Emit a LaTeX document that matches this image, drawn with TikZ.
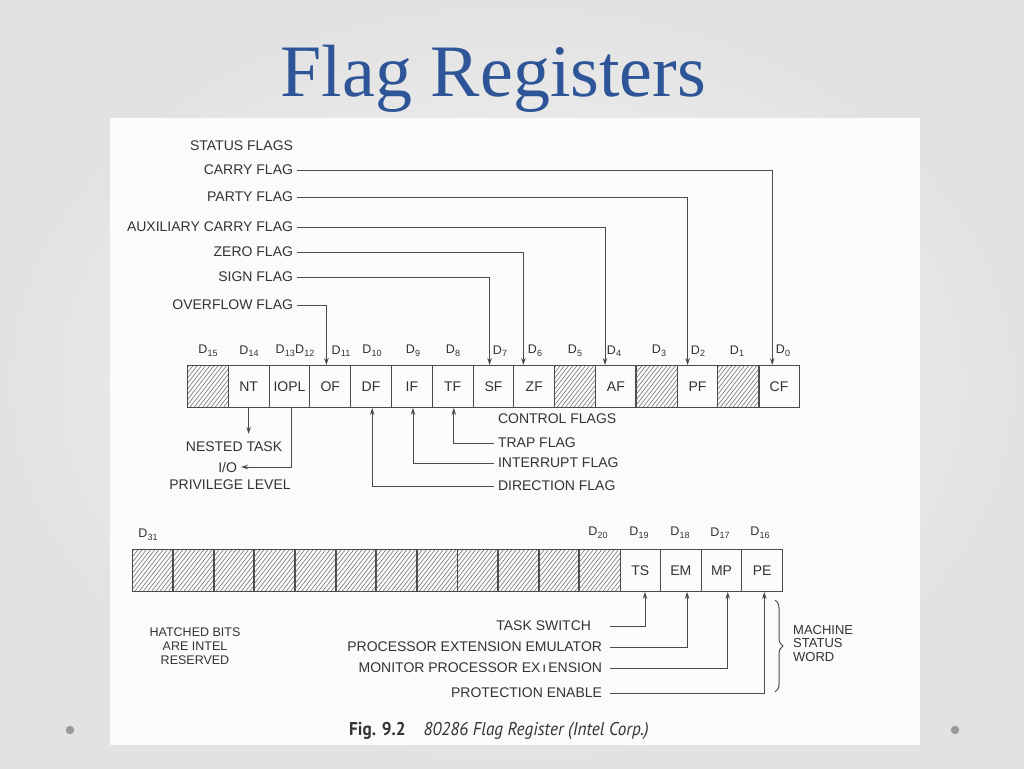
\documentclass[tikz,border=0pt]{standalone}
\usepackage{fontspec}
\setmainfont{Liberation Sans}
\newfontfamily\titlefont{Liberation Serif}
\newfontfamily\capfont{PT Sans}
\usetikzlibrary{arrows.meta,calc,decorations.pathreplacing}
\definecolor{slidebg}{HTML}{E2E2E2}
\definecolor{slidemid}{HTML}{F8F8F8}
\definecolor{paper}{HTML}{FBFBFB}
\definecolor{titleblue}{HTML}{2E5597}
\definecolor{ink}{HTML}{333333}
\definecolor{wire}{HTML}{4A4A4A}
\definecolor{hatchc}{HTML}{6E6E6E}
\newcommand\dl[1]{D\kern0.3pt\raisebox{-2.6pt}{\fontsize{9}{9}\selectfont #1}}
\newcommand\hatchit[1]{%
  \begin{scope}
    \clip (#1.south west) rectangle (#1.north east);
    \foreach \k in {-48,-43.8,...,44}{\draw[hatchc, line width=0.55pt] ([xshift=\k pt]#1.south west) -- ++(52:80pt);}
  \end{scope}
  \draw[draw=wire, line width=0.9pt] (#1.south west) rectangle (#1.north east);}
\begin{document}
\begin{tikzpicture}[x=1pt,y=-1pt,
  lab/.style={font=\fontsize{14}{14}\selectfont, text=ink, inner sep=0pt, outer xsep=4pt},
  smalllab/.style={font=\fontsize{12.5}{14}\selectfont, text=ink, inner sep=0pt},
  dlab/.style={font=\fontsize{12.5}{12.5}\selectfont, text=ink, inner sep=0pt},
  cell/.style={draw=wire, line width=0.9pt, minimum width=40.8pt, minimum height=42pt, inner sep=0pt, anchor=north west, font=\fontsize{14}{14}\selectfont, text=ink},
  bcell/.style={cell, minimum width=40.625pt},
  wirel/.style={draw=wire, line width=1pt},
  arr/.style={wirel, -{Stealth[length=7pt,width=4.5pt]}},
]
\useasboundingbox (0,0) rectangle (1024,768);
\shade[inner color=slidemid, outer color=slidebg] (0,0) rectangle (1024,768);
\fill[paper] (110,118) rectangle (920,745);

% title
\node[anchor=base, text=titleblue, inner sep=0pt] (title) at (493.5,96) {\titlefont\fontsize{74}{74}\selectfont Flag Registers};

% bullets
\fill[gray!80] (70,730) circle (4.2);
\fill[gray!80] (955,730) circle (4.2);

% ---------- top register ----------
\node[cell] (c15) at (187,365) {};
\node[cell] (cNT) at (227.8,365) {NT};
\node[cell] (cIOPL) at (268.6,365) {IOPL};
\node[cell] (cOF) at (309.4,365) {OF};
\node[cell] (cDF) at (350.2,365) {DF};
\node[cell] (cIF) at (391,365) {IF};
\node[cell] (cTF) at (431.8,365) {TF};
\node[cell] (cSF) at (472.6,365) {SF};
\node[cell] (cZF) at (513.4,365) {ZF};
\node[cell] (c5) at (554.2,365) {};
\node[cell] (cAF) at (595,365) {AF};
\node[cell] (c3) at (635.8,365) {};
\node[cell] (cPF) at (676.6,365) {PF};
\node[cell] (c1) at (717.4,365) {};
\node[cell] (cCF) at (758.2,365) {CF};
\hatchit{c15}\hatchit{c5}\hatchit{c3}\hatchit{c1}

% bit labels top
\node[dlab] (d15) at (208,351) {\dl{15}};
\node[dlab] (d14) at (249,351) {\dl{14}};
\node[dlab] (d13) at (295,351) {\dl{13}\dl{12}};
\node[dlab] (d11) at (341,351) {\dl{11}};
\node[dlab] (d10) at (372,351) {\dl{10}};
\node[dlab] (d9) at (413,351) {\dl{9}};
\node[dlab] (d8) at (453,351) {\dl{8}};
\node[dlab] (d7) at (500,351) {\dl{7}};
\node[dlab] (d6) at (535,351) {\dl{6}};
\node[dlab] (d5) at (575,351) {\dl{5}};
\node[dlab] (d4) at (614,351) {\dl{4}};
\node[dlab] (d3) at (659,351) {\dl{3}};
\node[dlab] (d2) at (698,351) {\dl{2}};
\node[dlab] (d1) at (737,351) {\dl{1}};
\node[dlab] (d0) at (783,351) {\dl{0}};

% status flag labels
\node[lab, anchor=east] (lstatus) at (297,146) {STATUS FLAGS};
\node[lab, anchor=east] (lcarry) at (297,170) {CARRY FLAG};
\node[lab, anchor=east] (lparity) at (297,197) {PARTY FLAG};
\node[lab, anchor=east] (laux) at (297,227) {AUXILIARY CARRY FLAG};
\node[lab, anchor=east] (lzero) at (297,252) {ZERO FLAG};
\node[lab, anchor=east] (lsign) at (297,277) {SIGN FLAG};
\node[lab, anchor=east] (lover) at (297,305) {OVERFLOW FLAG};

\coordinate (aOF) at ([xshift=17pt]cOF.north west);
\coordinate (aSF) at ([xshift=17pt]cSF.north west);
\coordinate (aZF) at ([xshift=10pt]cZF.north west);
\coordinate (aAF) at ([xshift=10pt]cAF.north west);
\coordinate (aPF) at ([xshift=11pt]cPF.north west);
\coordinate (aCF) at ([xshift=14pt]cCF.north west);

\draw[arr] (lcarry.east) -| (aCF);
\draw[arr] (lparity.east) -| (aPF);
\draw[arr] (laux.east) -| (aAF);
\draw[arr] (lzero.east) -| (aZF);
\draw[arr] (lsign.east) -| (aSF);
\draw[arr] (lover.east) -| (aOF);

% control flags
\node[lab, anchor=west] (lcontrol) at (494,419) {CONTROL FLAGS};
\node[lab, anchor=west] (ltrap) at (494,443) {TRAP FLAG};
\node[lab, anchor=west] (lint) at (494,463) {INTERRUPT FLAG};
\node[lab, anchor=west] (ldir) at (494,486) {DIRECTION FLAG};
\coordinate (aTF) at ([xshift=22pt]cTF.south west);
\coordinate (aIF) at ([xshift=22pt]cIF.south west);
\coordinate (aDF) at ([xshift=22pt]cDF.south west);
\draw[arr] (ltrap.west) -| (aTF);
\draw[arr] (lint.west) -| (aIF);
\draw[arr] (ldir.west) -| (aDF);

% NT and IOPL
\node[lab, anchor=center, outer xsep=0pt] (lnested) at (234,447) {NESTED TASK};
\node[lab, anchor=east] (lio) at (241,467) {I/O};
\node[lab, anchor=center, outer xsep=0pt] (lpriv) at (230,485) {PRIVILEGE LEVEL};
\draw[arr] (cNT.south) -- ([yshift=8pt]cNT.south |- lnested.north);
\draw[arr] ([xshift=2pt]cIOPL.south) |- (lio.east);

% ---------- bottom register ----------
\foreach \j in {0,...,11}{
  \node[bcell] (b\j) at ({132+\j*40.625},549) {};
}
\foreach \j in {0,...,11}{\hatchit{b\j}}
\node[bcell] (cTS) at (619.5,549) {TS};
\node[bcell] (cEM) at (660.125,549) {EM};
\node[bcell] (cMP) at (700.75,549) {MP};
\node[bcell] (cPE) at (741.375,549) {PE};

\node[dlab] (d31) at (148,535) {\dl{31}};
\node[dlab] (d20) at (598,533) {\dl{20}};
\node[dlab] (d19) at (639,533) {\dl{19}};
\node[dlab] (d18) at (680,533) {\dl{18}};
\node[dlab] (d17) at (720,533) {\dl{17}};
\node[dlab] (d16) at (760,533) {\dl{16}};

\node[lab, anchor=east, outer xsep=19pt] (ltask) at (610,626) {TASK SWITCH};
\node[lab, anchor=east, outer xsep=8pt] (lpee) at (610,647) {PROCESSOR EXTENSION EMULATOR};
\node[lab, anchor=east, outer xsep=8pt] (lmon) at (610,668) {MONITOR PROCESSOR EX\kern2pt ı\kern2pt ENSION};
\node[lab, anchor=east, outer xsep=8pt] (lprot) at (610,693) {PROTECTION ENABLE};
\coordinate (aTS) at ([xshift=25.5pt]cTS.south west);
\coordinate (aEM) at ([xshift=27pt]cEM.south west);
\coordinate (aMP) at ([xshift=27pt]cMP.south west);
\coordinate (aPE) at ([xshift=23pt]cPE.south west);
\draw[arr] (ltask.east) -| (aTS);
\draw[arr] (lpee.east) -| (aEM);
\draw[arr] (lmon.east) -| (aMP);
\draw[arr] (lprot.east) -| (aPE);

\coordinate (braceTop) at (775,600);
\coordinate (braceBot) at (775,692);
\draw[wirel, decorate, decoration={brace, amplitude=8pt}] (braceTop) -- (braceBot);
\node[smalllab, anchor=north west, align=left, font=\fontsize{13}{13.5}\selectfont] (lmsw) at (793,625) {MACHINE\\STATUS\\WORD};

\node[smalllab, anchor=north, align=center] (lhatch) at (195,628) {HATCHED BITS\\ARE INTEL\\RESERVED};

% caption
\node[anchor=base west, inner sep=0pt, text=ink] (caption) at (349,735) {\capfont\fontsize{18.5}{18.5}\selectfont\scalebox{0.93}[1]{\bfseries Fig. 9.2}\hspace{18pt}\scalebox{0.93}[1]{\itshape 80286 Flag Register (Intel Corp.)}};
\end{tikzpicture}
\end{document}
